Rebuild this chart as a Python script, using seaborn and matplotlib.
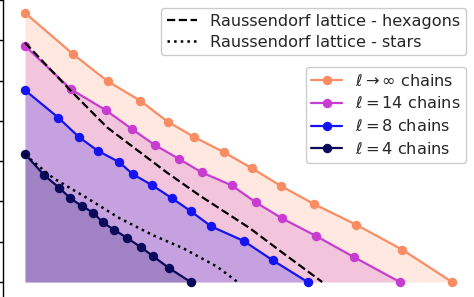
import numpy as np
import pandas as pd
import matplotlib
matplotlib.use("Agg")
import matplotlib.pyplot as plt
import seaborn as sns

sns.set_style("white")
plt.rcParams['font.family'] = ['DejaVu Sans']

# chain results
x_inf = [0, 0.56, 0.97, 1.35, 1.67, 1.98, 2.33, 2.66, 3.00, 3.38, 3.88, 4.42, 5.00]
y_inf = [3.34, 2.83, 2.49, 2.25, 1.99, 1.80, 1.61, 1.41, 1.19, 0.97, 0.71, 0.40, 0.0]
x_14 = [0, 0.54, 0.95, 1.25, 1.52, 1.80, 2.07, 2.42, 2.70, 3.01, 3.41, 3.85, 4.39]
y_14 = [2.93, 2.39, 2.13, 1.90, 1.70, 1.53, 1.36, 1.20, 0.99, 0.79, 0.57, 0.31, 0.0]
x_8 = [0, 0.39, 0.63, 0.85, 1.10, 1.26, 1.49, 1.72, 1.94, 2.18, 2.56, 2.90, 3.31]
y_8 = [2.38, 2.04, 1.80, 1.63, 1.49, 1.34, 1.20, 1.04, 0.88, 0.69, 0.51, 0.27, 0.0]
x_4 = [0, 0.22, 0.40, 0.53, 0.67, 0.80, 0.91, 1.04, 1.19, 1.36, 1.50, 1.69, 1.94]
y_4 = [1.59, 1.33, 1.17, 1.04, 0.94, 0.86, 0.74, 0.65, 0.55, 0.43, 0.32, 0.17, 0.0]

# Raussendorf lattice references
x_hex = [0, 0.53, 0.96, 1.31, 1.66, 2.05, 2.63, 3.02, 3.48]
y_hex = [2.97, 2.38, 1.92, 1.64, 1.36, 1.07, 0.67, 0.36, 0.0]
x_star = [0, 0.33, 0.73, 1.11, 1.50, 1.85, 2.25, 2.49]
y_star = [1.58, 1.29, 1.04, 0.79, 0.58, 0.42, 0.19, 0.0]

labels = [r"$\ell \rightarrow \infty$ chains", r"$\ell = 14$ chains",
          r"$\ell = 8$ chains", r"$\ell = 4$ chains"]
colors = ["#fa8c64", "#c83cd2", "#1414f0", "#0a0a5a"]
series = [(x_inf, y_inf), (x_14, y_14), (x_8, y_8), (x_4, y_4)]

W, H = 474, 297
fig = plt.figure(figsize=(W / 100, H / 100), dpi=100)
ax = fig.add_axes([3 / W, 0, 1 - 3 / W, 1])

chain_handles = []
for (xs, ys), c, lab in zip(series, colors, labels):
    ax.fill_between(xs, ys, 0, color=c, alpha=0.2, lw=0)
for (xs, ys), c, lab in zip(series, colors, labels):
    df = pd.DataFrame({"x": xs, "y": ys})
    sns.lineplot(data=df, x="x", y="y", ax=ax, color=c, marker="o",
                 markersize=6.8, markeredgecolor=c, markeredgewidth=0,
                 linewidth=1.6, label=lab, legend=False, sort=False)
    chain_handles.append(ax.lines[-1])

dfh = pd.DataFrame({"x": x_hex, "y": y_hex})
sns.lineplot(data=dfh, x="x", y="y", ax=ax, color="black", linestyle="--",
             linewidth=1.6, legend=False, sort=False)
h_hex = ax.lines[-1]
dfs = pd.DataFrame({"x": x_star, "y": y_star})
sns.lineplot(data=dfs, x="x", y="y", ax=ax, color="black", linestyle=":",
             linewidth=1.8, legend=False, sort=False)
h_star = ax.lines[-1]

ax.set_xlim(-22 / 85.4, 449 / 85.4)
ax.set_ylim(-15 / 80.6, 3.5)
ax.set_yticks(np.arange(0, 3.51, 0.5))
ax.set_yticklabels([])
ax.set_xticks([])
ax.set_xlabel("")
ax.set_ylabel("")
for s in ["top", "right", "bottom"]:
    ax.spines[s].set_visible(False)
ax.spines["left"].set_color("black")
ax.spines["left"].set_linewidth(1.0)
ax.tick_params(axis="y", left=True, direction="out", length=4, width=1, color="black")

fs = 11.6
leg1 = ax.legend([h_hex, h_star],
                 ["Raussendorf lattice - hexagons", "Raussendorf lattice - stars"],
                 loc="upper right", bbox_to_anchor=((466 - 3) / 471, 1 - 8 / 297),
                 borderaxespad=0, fontsize=fs, framealpha=1, labelspacing=0.38,
                 borderpad=0.35, handlelength=1.9)
ax.add_artist(leg1)
ax.legend(chain_handles, labels, loc="upper right",
          bbox_to_anchor=((466 - 3) / 471, 1 - 67 / 297),
          borderaxespad=0, fontsize=fs, framealpha=1, labelspacing=0.42,
          borderpad=0.35, handlelength=1.9)

fig.savefig("out.png", dpi=100)
